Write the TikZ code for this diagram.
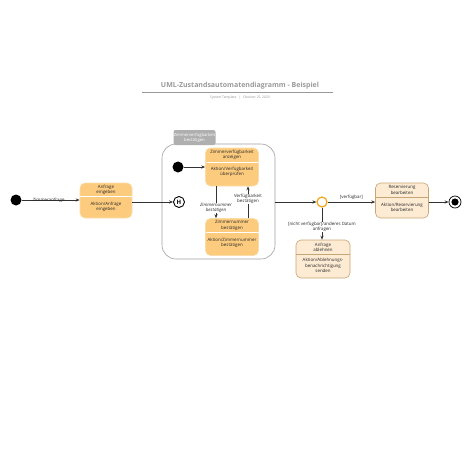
\documentclass[tikz,border=0pt]{standalone}
\usepackage{fontspec}
\setmainfont{Open Sans}
\usetikzlibrary{arrows.meta}
\definecolor{stfill}{HTML}{FDCB7E}
\definecolor{stline}{HTML}{F9DDA8}
\definecolor{rfill}{HTML}{FDEBD3}
\definecolor{rline}{HTML}{C8A574}
\definecolor{conn}{HTML}{333333}
\definecolor{compline}{HTML}{A0A0A0}
\definecolor{tabfill}{HTML}{AFAFAF}
\definecolor{dec}{HTML}{F2A516}
\tikzset{
  stbox/.style={fill=stfill, draw=stline, line width=0.6pt, rounded corners=5pt, minimum width=52pt, inner sep=0pt},
  rbox/.style={fill=rfill, draw=rline, line width=0.6pt, rounded corners=5pt, minimum width=53pt, inner sep=0pt},
  txt/.style={font=\fontsize{4.4}{5.2}\selectfont, align=center, text=black!85, inner sep=0.5pt},
  lbl/.style={font=\fontsize{4.4}{5.2}\selectfont, align=center, text=black!85, inner sep=0.5pt, fill=white},
  conn/.style={draw=conn, line width=0.7pt, -{Stealth[length=4pt,width=3.2pt]}},
  initdot/.style={circle, fill=black, minimum size=11pt, inner sep=0pt},
}
\begin{document}
\begin{tikzpicture}[x=1pt,y=-1pt]
\useasboundingbox (0,0) rectangle (474,474);
% title
\node[font=\bfseries\fontsize{7}{8}\selectfont, text=black!40] (title) at (240,86) {UML-Zustandsautomatendiagramm - Beispiel};
\draw[black!40, line width=0.6pt] (142,92) -- (333,92);
\node[font=\fontsize{3.3}{4}\selectfont, text=black!45] (sub) at (240,97.5) {System Template \ \ | \ \ October 25, 2023};

% initial
\node[initdot] (init) at (16,200) {};
% Anfrage eingeben
\node[stbox, minimum height=35pt] (s0) at (106,200.5) {};
\draw[white, line width=0.8pt] (80,196) -- (132,196);
\node[txt] (s0a) at (106,189.5) {Anfrage\\eingeben};
\node[txt] (s0b) at (106,206.5) {Aktion/Anfrage\\eingeben};
\draw[conn] (init) -- (s0.west |- init) node[txt, midway, xshift=-2pt] (l0) {Zimmeranfrage};

% composite
\node[draw=compline, line width=0.6pt, rounded corners=14pt, minimum width=113pt, minimum height=115pt, fill=white] (comp) at (218.5,201.5) {};
\node[fill=tabfill, rounded corners=2pt, minimum width=42pt, minimum height=15pt, inner sep=0pt, text=white, font=\fontsize{4.2}{5}\selectfont, align=center] (tab) at (194.5,137.5) {Zimmerverfügbarkeit\\bestätigen};

% history
\node[circle, draw=black, line width=0.9pt, minimum size=11pt, inner sep=0pt, font=\bfseries\fontsize{6}{6}\selectfont] (hist) at (179,202) {H};
\draw[conn] (s0.east |- hist) -- (hist);

% inner initial
\node[initdot] (iinit) at (178,167) {};

% inner state 1
\node[stbox, minimum height=38pt, minimum width=53pt] (s1) at (232,167) {};
\draw[white, line width=0.8pt] (205.5,162) -- (258.5,162);
\node[txt] (s1a) at (232,155) {Zimmerverfügbarkeit\\anzeigen};
\node[txt] (s1b) at (232,172) {Aktion/Verfügbarkeit\\überprüfen};
\draw[conn] (iinit) -- (s1.west |- iinit);

% inner state 2
\node[stbox, minimum height=37pt, minimum width=53pt] (s2) at (232,237) {};
\draw[white, line width=0.8pt] (205.5,232) -- (258.5,232);
\node[txt] (s2a) at (232,225.5) {Zimmernummer\\bestätigen};
\node[txt] (s2b) at (232,242.5) {Aktion/Zimmernummer\\bestätigen};

\coordinate (a1) at (216,0);
\coordinate (a2) at (248,0);
\draw[conn] (s1.south -| a1) -- (s2.north -| a1) node[lbl, pos=0.68, font=\itshape\fontsize{4.4}{5.2}\selectfont] (l1) {Zimmernummer\\bestätigen};
\draw[conn] (s2.north -| a2) -- (s1.south -| a2) node[lbl, pos=0.6] (l2) {Verfügbarkeit\\bestätigen};

% decision
\node[circle, draw=dec, fill=white, line width=1.2pt, minimum size=10pt, inner sep=0pt] (dec) at (322,202) {};
\draw[conn] (comp.east |- dec) -- (dec);

% Reservierung
\node[rbox, minimum height=35pt, minimum width=53pt] (s3) at (402,200.5) {};
\draw[rline, line width=0.6pt] (375.5,197) -- (428.5,197);
\node[txt] (s3a) at (402,190) {Reservierung\\bearbeiten};
\node[txt] (s3b) at (402,207.5) {Aktion/Reservierung\\bearbeiten};
\draw[conn] (dec) -- (s3.west |- dec) node[txt, midway, above=1.5pt] (l3) {[verfügbar]};

% final
\node[circle, draw=black, line width=0.7pt, fill=white, minimum size=12pt, inner sep=0pt] (fin) at (455,202) {};
\fill[black] (fin.center) circle (3.6pt);
\draw[conn] (s3.east |- fin) -- (fin);

% Anfrage ablehnen
\node[rbox, minimum height=38pt, minimum width=54pt] (s4) at (323,259) {};
\draw[rline, line width=0.6pt] (296,254) -- (350,254);
\node[txt] (s4a) at (323,247) {Anfrage\\ablehnen};
\node[txt] (s4b) at (323,265.5) {Aktion/Ablehnungs-\\benachrichtigung\\senden};
\draw[conn] (dec) -- (s4.north -| dec) node[lbl, pos=0.6] (l4) {[nicht verfügbar]/anderes Datum\\anfragen};
\end{tikzpicture}
\end{document}
